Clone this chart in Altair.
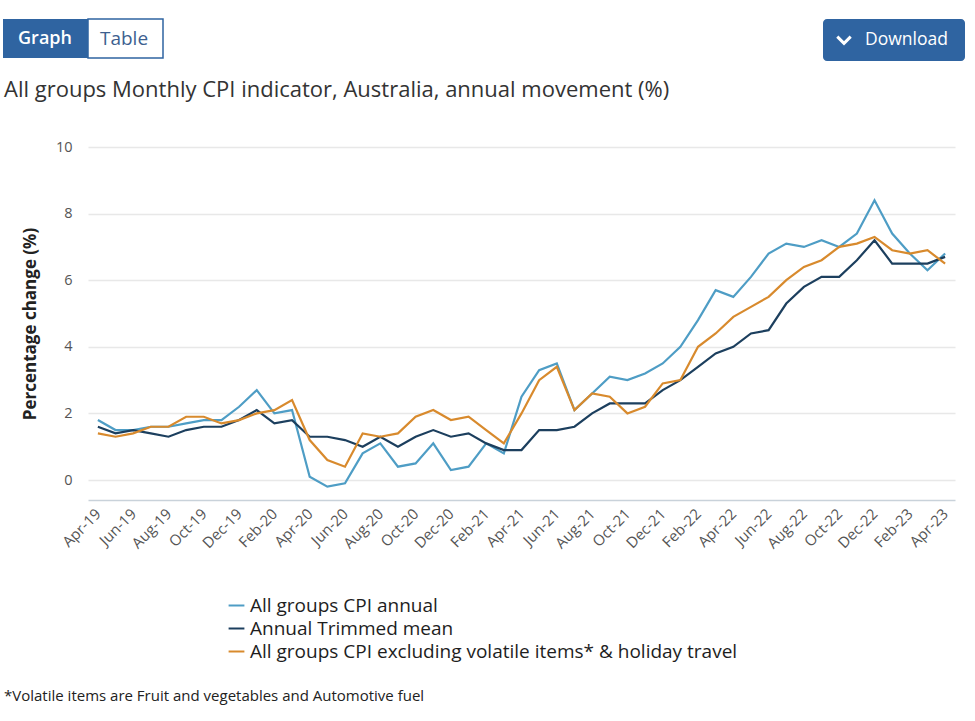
import altair as alt
import pandas as pd

months = ["Apr-19","May-19","Jun-19","Jul-19","Aug-19","Sep-19","Oct-19","Nov-19","Dec-19","Jan-20","Feb-20","Mar-20",
          "Apr-20","May-20","Jun-20","Jul-20","Aug-20","Sep-20","Oct-20","Nov-20","Dec-20","Jan-21","Feb-21","Mar-21",
          "Apr-21","May-21","Jun-21","Jul-21","Aug-21","Sep-21","Oct-21","Nov-21","Dec-21","Jan-22","Feb-22","Mar-22",
          "Apr-22","May-22","Jun-22","Jul-22","Aug-22","Sep-22","Oct-22","Nov-22","Dec-22","Jan-23","Feb-23","Mar-23",
          "Apr-23"]

cpi_annual = [1.8,1.5,1.5,1.6,1.6,1.7,1.8,1.8,2.2,2.7,2.0,2.1,
              0.1,-0.2,-0.1,0.8,1.1,0.4,0.5,1.1,0.3,0.4,1.1,0.8,
              2.5,3.3,3.5,2.1,2.6,3.1,3.0,3.2,3.5,4.0,4.8,5.7,
              5.5,6.1,6.8,7.1,7.0,7.2,7.0,7.4,8.4,7.4,6.8,6.3,
              6.8]

trimmed_mean = [1.6,1.4,1.5,1.4,1.3,1.5,1.6,1.6,1.8,2.1,1.7,1.8,
                1.3,1.3,1.2,1.0,1.3,1.0,1.3,1.5,1.3,1.4,1.1,0.9,
                0.9,1.5,1.5,1.6,2.0,2.3,2.3,2.3,2.7,3.0,3.4,3.8,
                4.0,4.4,4.5,5.3,5.8,6.1,6.1,6.6,7.2,6.5,6.5,6.5,
                6.7]

cpi_ex_volatile = [1.4,1.3,1.4,1.6,1.6,1.9,1.9,1.7,1.8,2.0,2.1,2.4,
                   1.2,0.6,0.4,1.4,1.3,1.4,1.9,2.1,1.8,1.9,1.5,1.1,
                   2.0,3.0,3.4,2.1,2.6,2.5,2.0,2.2,2.9,3.0,4.0,4.4,
                   4.9,5.2,5.5,6.0,6.4,6.6,7.0,7.1,7.3,6.9,6.8,6.9,
                   6.5]

series_names = ["All groups CPI annual",
                "Annual Trimmed mean",
                "All groups CPI excluding volatile items* & holiday travel"]
series_colors = ["#4E9DC5", "#1C3F5E", "#D88A2D"]

y_ticks = [0, 2, 4, 6, 8, 10]
x_tick_labels = months[::2]

title_text = "All groups Monthly CPI indicator, Australia, annual movement (%)"
y_title = "Percentage change (%)"
footnote = "*Volatile items are Fruit and vegetables and Automotive fuel"

rows = []
for name, vals in zip(series_names, [cpi_annual, trimmed_mean, cpi_ex_volatile]):
    for m, v in zip(months, vals):
        rows.append({"month": m, "series": name, "value": v})
df = pd.DataFrame(rows)

FONT = "Open Sans"

lines = alt.Chart(df).mark_line(strokeWidth=2.2).encode(
    x=alt.X("month:O", sort=months,
            scale=alt.Scale(type="point", padding=0.56),
            axis=alt.Axis(values=x_tick_labels, title=None, labelAngle=315,
                          labelAlign="right", labelBaseline="middle",
                          labelPadding=11, labelFontSize=15, labelFont=FONT,
                          labelColor="#555555", ticks=False, grid=False,
                          domainColor="#C9D2DA", domainWidth=1.5)),
    y=alt.Y("value:Q",
            scale=alt.Scale(domain=[-0.6, 10], nice=False, zero=False),
            axis=alt.Axis(values=y_ticks, title=None, ticks=False, domain=False,
                          labelPadding=16, labelFontSize=14.5, labelFont=FONT,
                          labelColor="#555555", gridColor="#E8E8E8", gridWidth=1.5)),
    color=alt.Color("series:N",
                    scale=alt.Scale(domain=series_names, range=series_colors),
                    sort=series_names,
                    legend=alt.Legend(orient="none", legendX=139, legendY=449,
                                      title=None, symbolType="stroke",
                                      symbolStrokeWidth=2, symbolSize=250,
                                      labelFontSize=19, labelFont=FONT,
                                      labelColor="#1E1E1E", labelOffset=4,
                                      rowPadding=3, labelLimit=0)),
    order=alt.Order("series:N"),
)

deco = pd.DataFrame({"k": [1]})
base = alt.Chart(deco)

graph_btn = base.mark_rect(color="#2F64A1").encode(
    x=alt.value(-85), x2=alt.value(0), y=alt.value(-128), y2=alt.value(-89))
table_btn = base.mark_rect(fill="white", stroke="#2F64A1", strokeWidth=1.5).encode(
    x=alt.value(0), x2=alt.value(75), y=alt.value(-128), y2=alt.value(-89))
graph_txt = base.mark_text(text="Graph", font=FONT, fontSize=18, fontWeight=600,
                           color="white", align="center", baseline="middle").encode(
    x=alt.value(-43), y=alt.value(-108))
table_txt = base.mark_text(text="Table", font=FONT, fontSize=19,
                           color="#3D5F8F", align="center", baseline="middle").encode(
    x=alt.value(36), y=alt.value(-108))
dl_btn = base.mark_rect(color="#2F64A1", cornerRadius=4).encode(
    x=alt.value(735), x2=alt.value(877), y=alt.value(-128), y2=alt.value(-86))
chevron = base.mark_point(shape="M-1,-0.5L0,0.5L1,-0.5", filled=False, stroke="white",
                          strokeWidth=3, size=180, opacity=1).encode(
    x=alt.value(756), y=alt.value(-107))
dl_txt = base.mark_text(text="Download", font=FONT, fontSize=17.5, color="white",
                        align="left", baseline="middle").encode(
    x=alt.value(777), y=alt.value(-107))
title_mark = base.mark_text(text=title_text, font=FONT, fontSize=22, color="#333333",
                            align="left", baseline="middle").encode(
    x=alt.value(-84), y=alt.value(-57))
ytitle_mark = base.mark_text(text=y_title, font=FONT, fontSize=17, fontWeight="bold",
                             color="#222222", angle=270, align="center",
                             baseline="middle").encode(
    x=alt.value(-57), y=alt.value(177))
foot_mark = base.mark_text(text=footnote, font=FONT, fontSize=15, color="#222222",
                           align="left", baseline="middle").encode(
    x=alt.value(-84), y=alt.value(549))

chart = alt.layer(
    lines, graph_btn, table_btn, graph_txt, table_txt, dl_btn, chevron, dl_txt,
    title_mark, ytitle_mark, foot_mark
).properties(
    width=867, height=353,
    autosize=alt.AutoSizeParams(type="none"),
    padding={"left": 88, "top": 147, "right": 20, "bottom": 221},
    background="white",
).configure_view(stroke=None)

chart.save("out.html", embed_options={"renderer": "svg", "actions": False})
